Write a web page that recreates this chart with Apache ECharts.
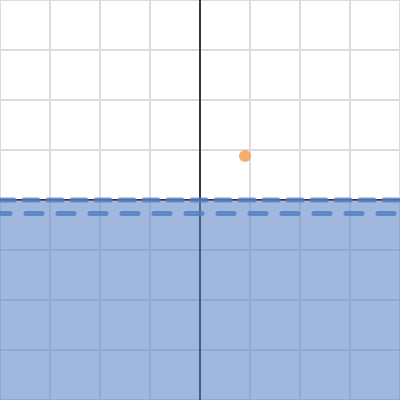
<!DOCTYPE html>
<html><head><meta charset="utf-8">
<script src="https://cdn.jsdelivr.net/npm/echarts@6/dist/echarts.min.js"></script>
<style>html,body{margin:0;padding:0}#c{width:400px;height:400px}</style>
</head><body><div id="c"></div>
<script>
const waterLevel = [[-4, 0], [4, 0]];
const waveRow1 = [[-4, 0], [4, 0]];
const waveRow2 = [[-4, -0.27], [4, -0.27]];
const pointData = [[0.9, 0.88]];
const u = 400 / 7.5;
const chart = echarts.init(document.getElementById('c'));
chart.setOption({
  animation: false,
  grid: { left: 199 - 4 * u, top: 196 - 4 * u, width: 8 * u, height: 8 * u },
  xAxis: { type: 'value', min: -4, max: 4, interval: 1, axisLabel: { show: false }, axisTick: { show: false },
    axisLine: { onZero: true, lineStyle: { color: '#000', width: 1.5 } }, splitLine: { lineStyle: { color: '#ddd', width: 2 } } },
  yAxis: { type: 'value', min: -4, max: 4, interval: 1, axisLabel: { show: false }, axisTick: { show: false },
    axisLine: { onZero: true, lineStyle: { color: '#000', width: 1.5 } }, splitLine: { lineStyle: { color: '#ddd', width: 2 } } },
  series: [
    { type: 'line', data: waterLevel, symbol: 'none', lineStyle: { width: 0 },
      areaStyle: { color: 'rgba(80,125,195,0.78)', origin: 'start' }, z: 5,
      markArea: { silent: true, itemStyle: { color: 'rgba(255,255,255,0.12)' }, data: [[{ coord: [-4, 0] }, { coord: [4, -0.27] }]] } },
    { type: 'line', data: waveRow1, symbol: 'none', lineStyle: { width: 5, color: 'rgba(80,125,195,0.8)', type: [14, 10], cap: 'round' }, z: 6 },
    { type: 'line', data: waveRow2, symbol: 'none', lineStyle: { width: 5, color: 'rgba(80,125,195,0.8)', type: [16, 16], cap: 'round', dashOffset: 6 }, z: 6 },
    { type: 'scatter', data: pointData, symbolSize: 12, itemStyle: { color: '#f39a4a' }, z: 7 }
  ]
});
</script></body></html>
